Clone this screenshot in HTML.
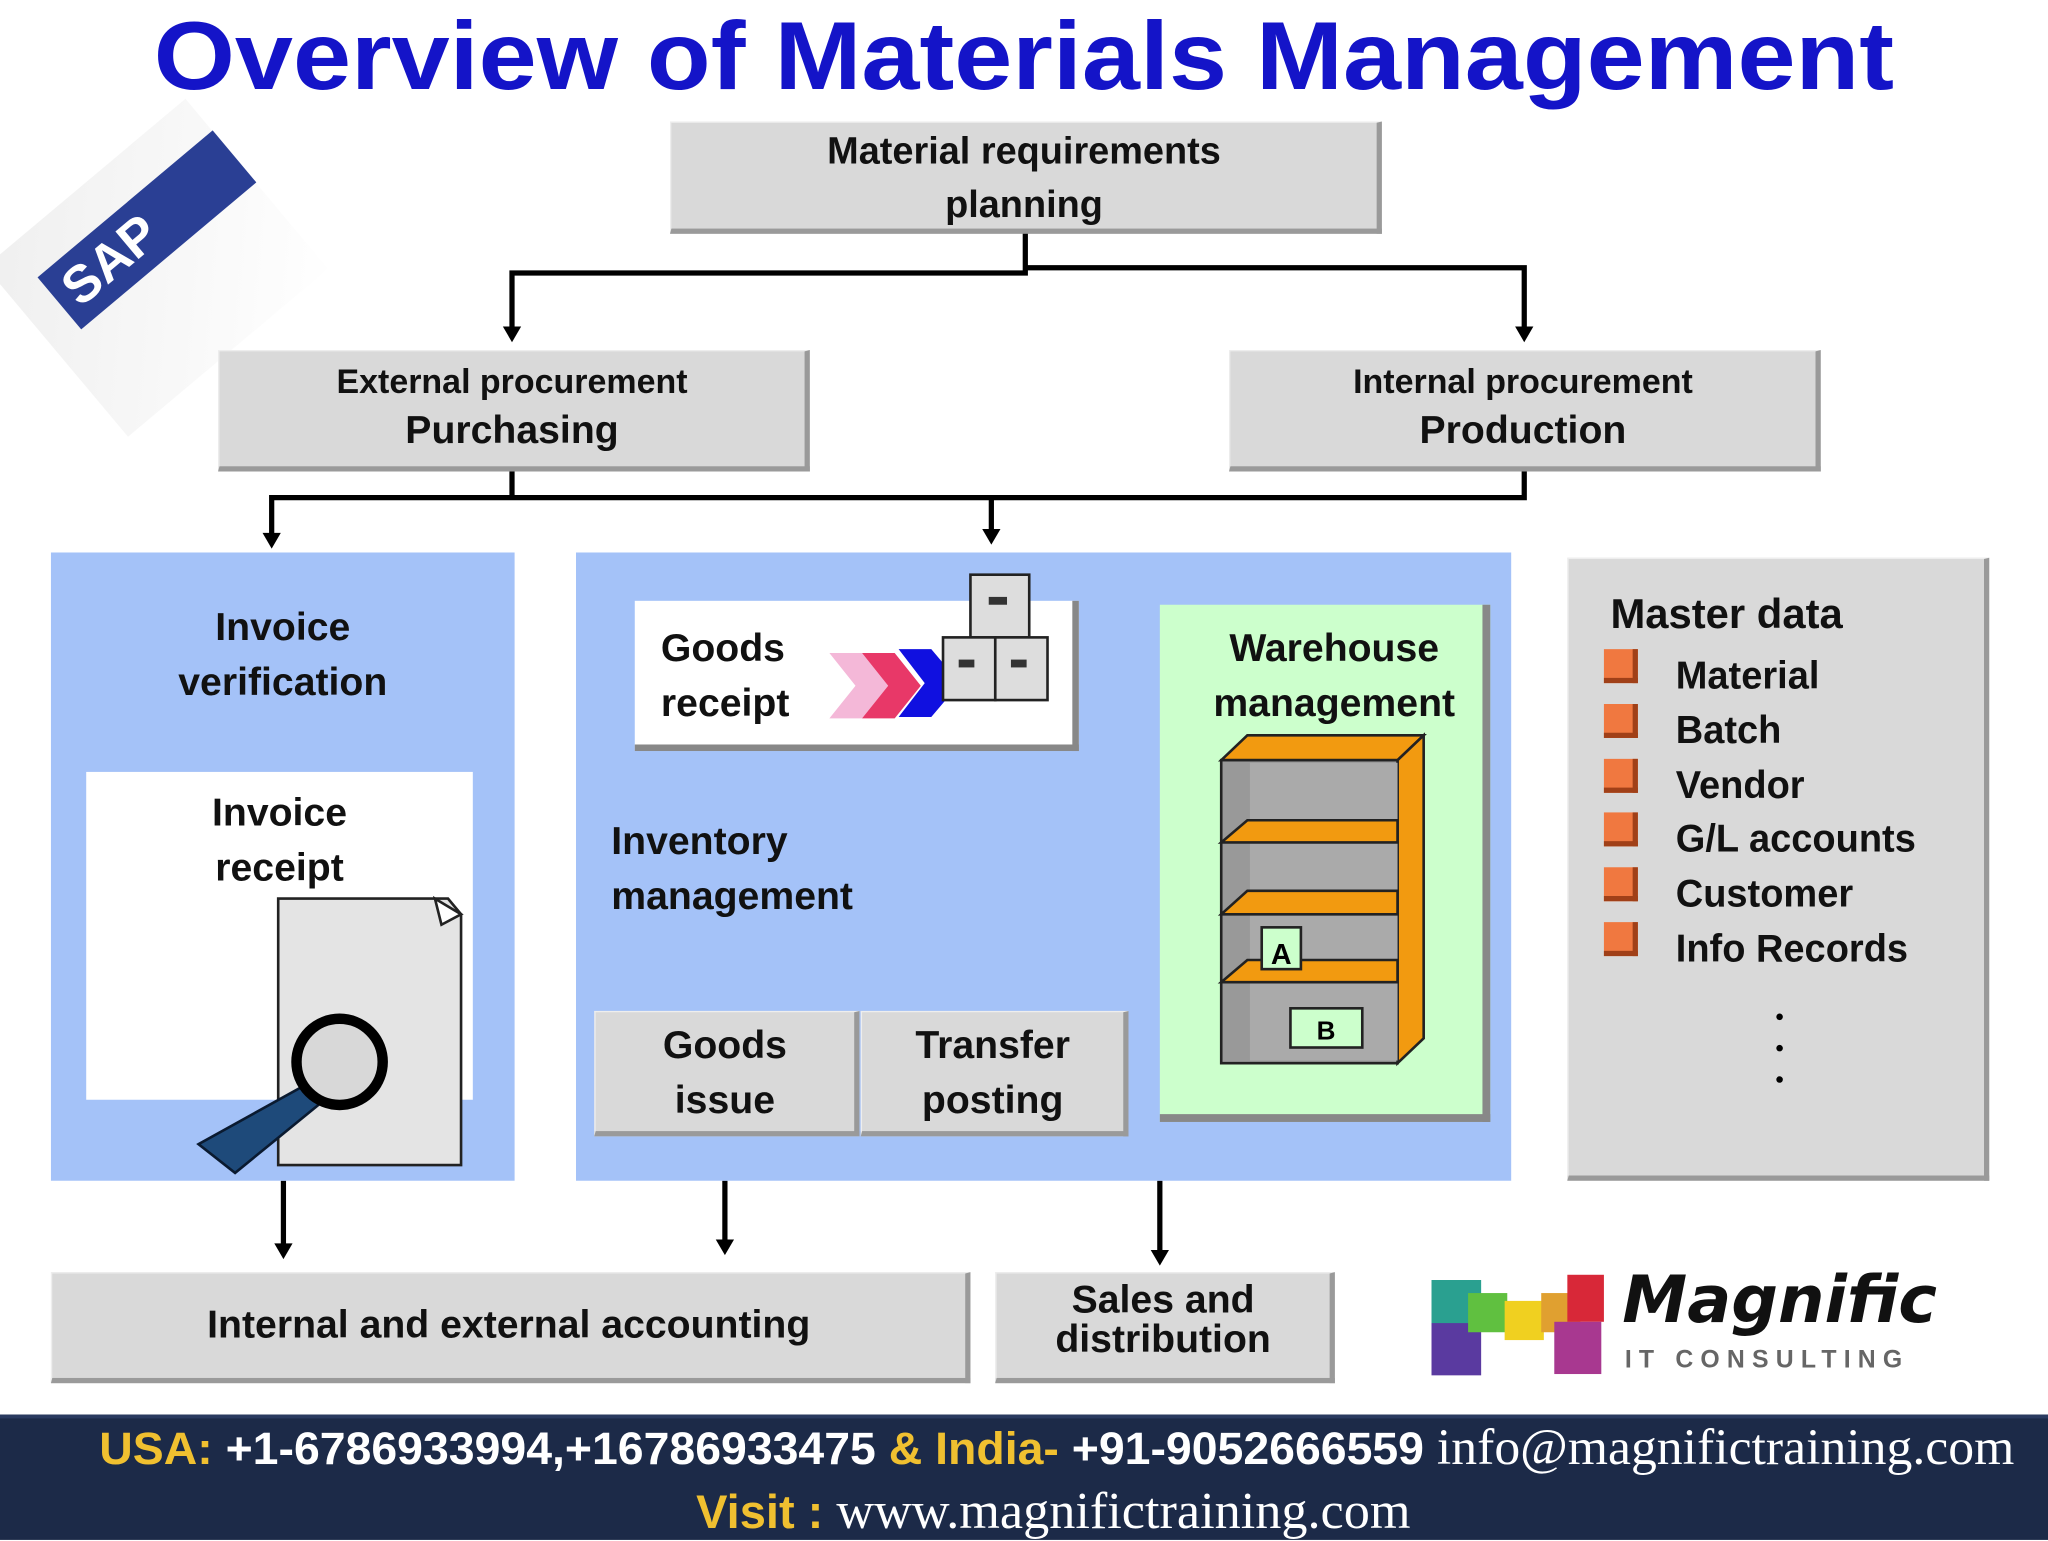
<!DOCTYPE html>
<html><head><meta charset="utf-8">
<style>
html,body{margin:0;padding:0;background:#fff;width:2048px;height:1536px;overflow:hidden}
#s{position:absolute;left:0;top:0;width:1568px;height:1176px;transform:scale(1.306122);transform-origin:0 0;font-family:"Liberation Sans",sans-serif;font-weight:bold;color:#111}
.a{position:absolute}
.g{position:absolute;background:#d9d9d9;border-right:4px solid #9a9a9a;border-bottom:4px solid #9a9a9a;border-top:1px solid #eee;border-left:1px solid #eee;box-sizing:border-box;text-align:center}
.t{position:absolute;text-align:center;white-space:nowrap}
.sq{position:absolute;width:26px;height:26px;background:#f07840;border-right:4px solid #a04018;border-bottom:4px solid #a04018;box-sizing:border-box;left:1228px}
</style></head><body><div id="s">
<div class="t" style="left:0;width:1568px;top:0px;font-size:74px;color:#1414c8;transform:scaleX(1.08);transform-origin:785px 0">Overview of Materials Management</div>

<!-- SAP logo -->
<div class="a" style="left:20px;top:120px;width:200px;height:170px;background:linear-gradient(135deg,#eee,#fff);transform:rotate(-40deg);opacity:.9"></div>
<div class="a" style="left:25px;top:150px;width:175px;height:52px;background:#2a3f94;transform:rotate(-40deg);color:#fff;font-size:40px;line-height:52px;padding-left:10px;box-sizing:border-box">SAP</div>

<div class="g" style="left:513px;top:93px;width:545px;height:86px;font-size:29px;line-height:41px;padding-top:2px">Material requirements<br>planning</div>
<div class="g" style="left:167px;top:268px;width:453px;height:93px;padding-top:6px"><div style="font-size:26px;line-height:34px">External procurement</div><div style="font-size:30px;line-height:42px">Purchasing</div></div>
<div class="g" style="left:941px;top:268px;width:453px;height:93px;padding-top:6px"><div style="font-size:26px;line-height:34px">Internal procurement</div><div style="font-size:30px;line-height:42px">Production</div></div>

<svg class="a" style="left:0;top:0" width="1568" height="1176">
<g stroke="#000" stroke-width="4" fill="none">
<path d="M785 179V209H392V255M785 209V205H1167V255"/>
<path d="M392 361V381H208V412M1167 361V381H392M759 381V410"/>
<path d="M217 904V955M555 904V952M888 904V960"/>
</g>
<g fill="#000">
<path d="M385 250h14l-7 12z"/><path d="M1160 250h14l-7 12z"/>
<path d="M201 408h14l-7 12z"/><path d="M752 405h14l-7 12z"/>
<path d="M210 952h14l-7 12z"/><path d="M548 949h14l-7 12z"/><path d="M881 957h14l-7 12z"/>
</g>
</svg>

<!-- left panel -->
<div class="a" style="left:39px;top:423px;width:355px;height:481px;background:#a4c2f8"></div>
<div class="t" style="left:39px;width:355px;top:460px;font-size:30px;line-height:42px">Invoice<br>verification</div>
<div class="a" style="left:66px;top:591px;width:296px;height:251px;background:#fff"></div>
<div class="t" style="left:66px;width:296px;top:602px;font-size:30px;line-height:42px">Invoice<br>receipt</div>
<svg class="a" style="left:140px;top:680px" width="230" height="225">
<path d="M73 8H203L213 20V212H73Z" fill="#e4e4e4" stroke="#222" stroke-width="2"/>
<path d="M193 8L213 20L198 28Z" fill="#fff" stroke="#222" stroke-width="2"/>
<path d="M12 196L95 150L105 165L40 218Z" fill="#1e4a7a" stroke="#0a1a30" stroke-width="2"/>
<circle cx="120" cy="133" r="33" fill="#d8d8d8" stroke="#000" stroke-width="8"/>
</svg>

<!-- middle panel -->
<div class="a" style="left:441px;top:423px;width:716px;height:481px;background:#a4c2f8"></div>
<div class="a" style="left:486px;top:460px;width:340px;height:115px;background:#fff;border-right:5px solid #888;border-bottom:5px solid #888;box-sizing:border-box"></div>
<div class="t" style="left:506px;top:476px;font-size:30px;line-height:42px;text-align:left">Goods<br>receipt</div>
<svg class="a" style="left:630px;top:435px" width="180" height="125">
<path d="M5 65h25l20 25-20 25H5l20-25z" fill="#f4b8d8"/>
<path d="M30 65h25l20 25-20 25H30l20-25z" fill="#e83868"/>
<path d="M58 62h25l22 26-22 26H58l20-26z" fill="#1010e0"/>
<g fill="#ddd" stroke="#222" stroke-width="2">
<rect x="113" y="5" width="45" height="48"/><rect x="92" y="53" width="40" height="48"/><rect x="132" y="53" width="40" height="48"/></g>
<g fill="#333"><rect x="127" y="22" width="14" height="6"/><rect x="104" y="70" width="12" height="6"/><rect x="144" y="70" width="12" height="6"/></g>
</svg>
<div class="t" style="left:468px;top:624px;font-size:30px;line-height:42px;text-align:left">Inventory<br>management</div>
<div class="g" style="left:455px;top:774px;width:203px;height:96px;font-size:30px;line-height:42px;padding-top:5px;border-right-color:#999">Goods<br>issue</div>
<div class="g" style="left:659px;top:774px;width:205px;height:96px;font-size:30px;line-height:42px;padding-top:5px">Transfer<br>posting</div>

<div class="a" style="left:888px;top:463px;width:253px;height:396px;background:#ccffcc;border-right:6px solid #888;border-bottom:6px solid #888;box-sizing:border-box"></div>
<div class="t" style="left:898px;width:247px;top:476px;font-size:30px;line-height:42px">Warehouse<br>management</div>
<svg class="a" style="left:930px;top:560px" width="170" height="260">
<path d="M5 22L25 3H160L140 22Z" fill="#f29a10" stroke="#222" stroke-width="2"/>
<path d="M140 22L160 3V235L140 254Z" fill="#f29a10" stroke="#222" stroke-width="2"/>
<rect x="5" y="22" width="135" height="232" fill="#999" stroke="#222" stroke-width="2"/>
<rect x="27" y="24" width="113" height="228" fill="#aaa"/>
<g fill="#f29a10" stroke="#222" stroke-width="2">
<path d="M5 85L25 68H140V85Z"/><path d="M5 140L25 122H140V140Z"/><path d="M5 192L25 175H140V192Z"/></g>
<rect x="36" y="150" width="30" height="32" fill="#ccffcc" stroke="#222" stroke-width="2"/>
<text x="43" y="178" font-family="Liberation Sans" font-weight="bold" font-size="22" fill="#000">A</text>
<rect x="58" y="212" width="55" height="30" fill="#ccffcc" stroke="#222" stroke-width="2"/>
<text x="78" y="236" font-family="Liberation Sans" font-weight="bold" font-size="20" fill="#000">B</text>
</svg>

<!-- master data -->
<div class="g" style="left:1200px;top:427px;width:323px;height:477px;text-align:left"></div>
<div class="t" style="left:1233px;top:452px;font-size:32px;text-align:left">Master data</div>
<div class="t" style="left:1283px;top:497px;font-size:30px;line-height:41.8px;text-align:left;transform:scaleX(0.97);transform-origin:0 0">Material<br>Batch<br>Vendor<br>G/L accounts<br>Customer<br>Info Records</div>
<div class="sq" style="top:497px"></div><div class="sq" style="top:539px"></div><div class="sq" style="top:581px"></div>
<div class="sq" style="top:622px"></div><div class="sq" style="top:664px"></div><div class="sq" style="top:706px"></div>
<div class="a" style="left:1360px;top:776px;width:5px;height:5px;background:#000;border-radius:50%"></div>
<div class="a" style="left:1360px;top:800px;width:5px;height:5px;background:#000;border-radius:50%"></div>
<div class="a" style="left:1360px;top:824px;width:5px;height:5px;background:#000;border-radius:50%"></div>

<div class="g" style="left:39px;top:974px;width:704px;height:85px;font-size:30px;line-height:80px">Internal and external accounting</div>
<div class="g" style="left:762px;top:974px;width:260px;height:85px;font-size:30px;line-height:30px;padding-top:6px">Sales and<br>distribution</div>

<!-- logo -->
<svg class="a" style="left:1090px;top:968px" width="140" height="90">
<rect x="6" y="12" width="38" height="35" fill="#2aa090"/><rect x="6" y="45" width="38" height="40" fill="#5a3aa0"/>
<rect x="34" y="22" width="30" height="30" fill="#60c040"/><rect x="62" y="28" width="30" height="30" fill="#f0d020"/>
<rect x="90" y="22" width="30" height="30" fill="#e0a030"/><rect x="110" y="8" width="28" height="36" fill="#d82838"/>
<rect x="100" y="44" width="36" height="40" fill="#a83890"/>
</svg>
<div class="t" style="left:1242px;top:966px;font-family:'DejaVu Sans',sans-serif;font-style:italic;font-size:50px;color:#111">Magnific</div>
<div class="t" style="left:1244px;top:1031px;font-size:19px;letter-spacing:5.5px;color:#666">IT CONSULTING</div>

<!-- footer -->
<div class="a" style="left:0;top:1083px;width:1568px;height:93px;background:#1c2a48;border-top:3px solid #2a3a60"></div>
<div class="t" style="left:76px;top:1086px;font-size:35px;color:#fff;transform:scaleX(1.015);transform-origin:0 0"><span style="color:#f0c030">USA:</span> +1-6786933994,+16786933475 <span style="color:#f0c030">&amp; India-</span> +91-9052666559 <span style="font-family:'Liberation Serif',serif;font-weight:normal;font-size:39px">info@magnifictraining.com</span></div>
<div class="t" style="left:533px;top:1133px;font-size:36px;color:#fff"><span style="color:#f0c030">Visit :</span> <span style="font-family:'Liberation Serif',serif;font-weight:normal;font-size:40px">www.magnifictraining.com</span></div>
</div></body></html>
